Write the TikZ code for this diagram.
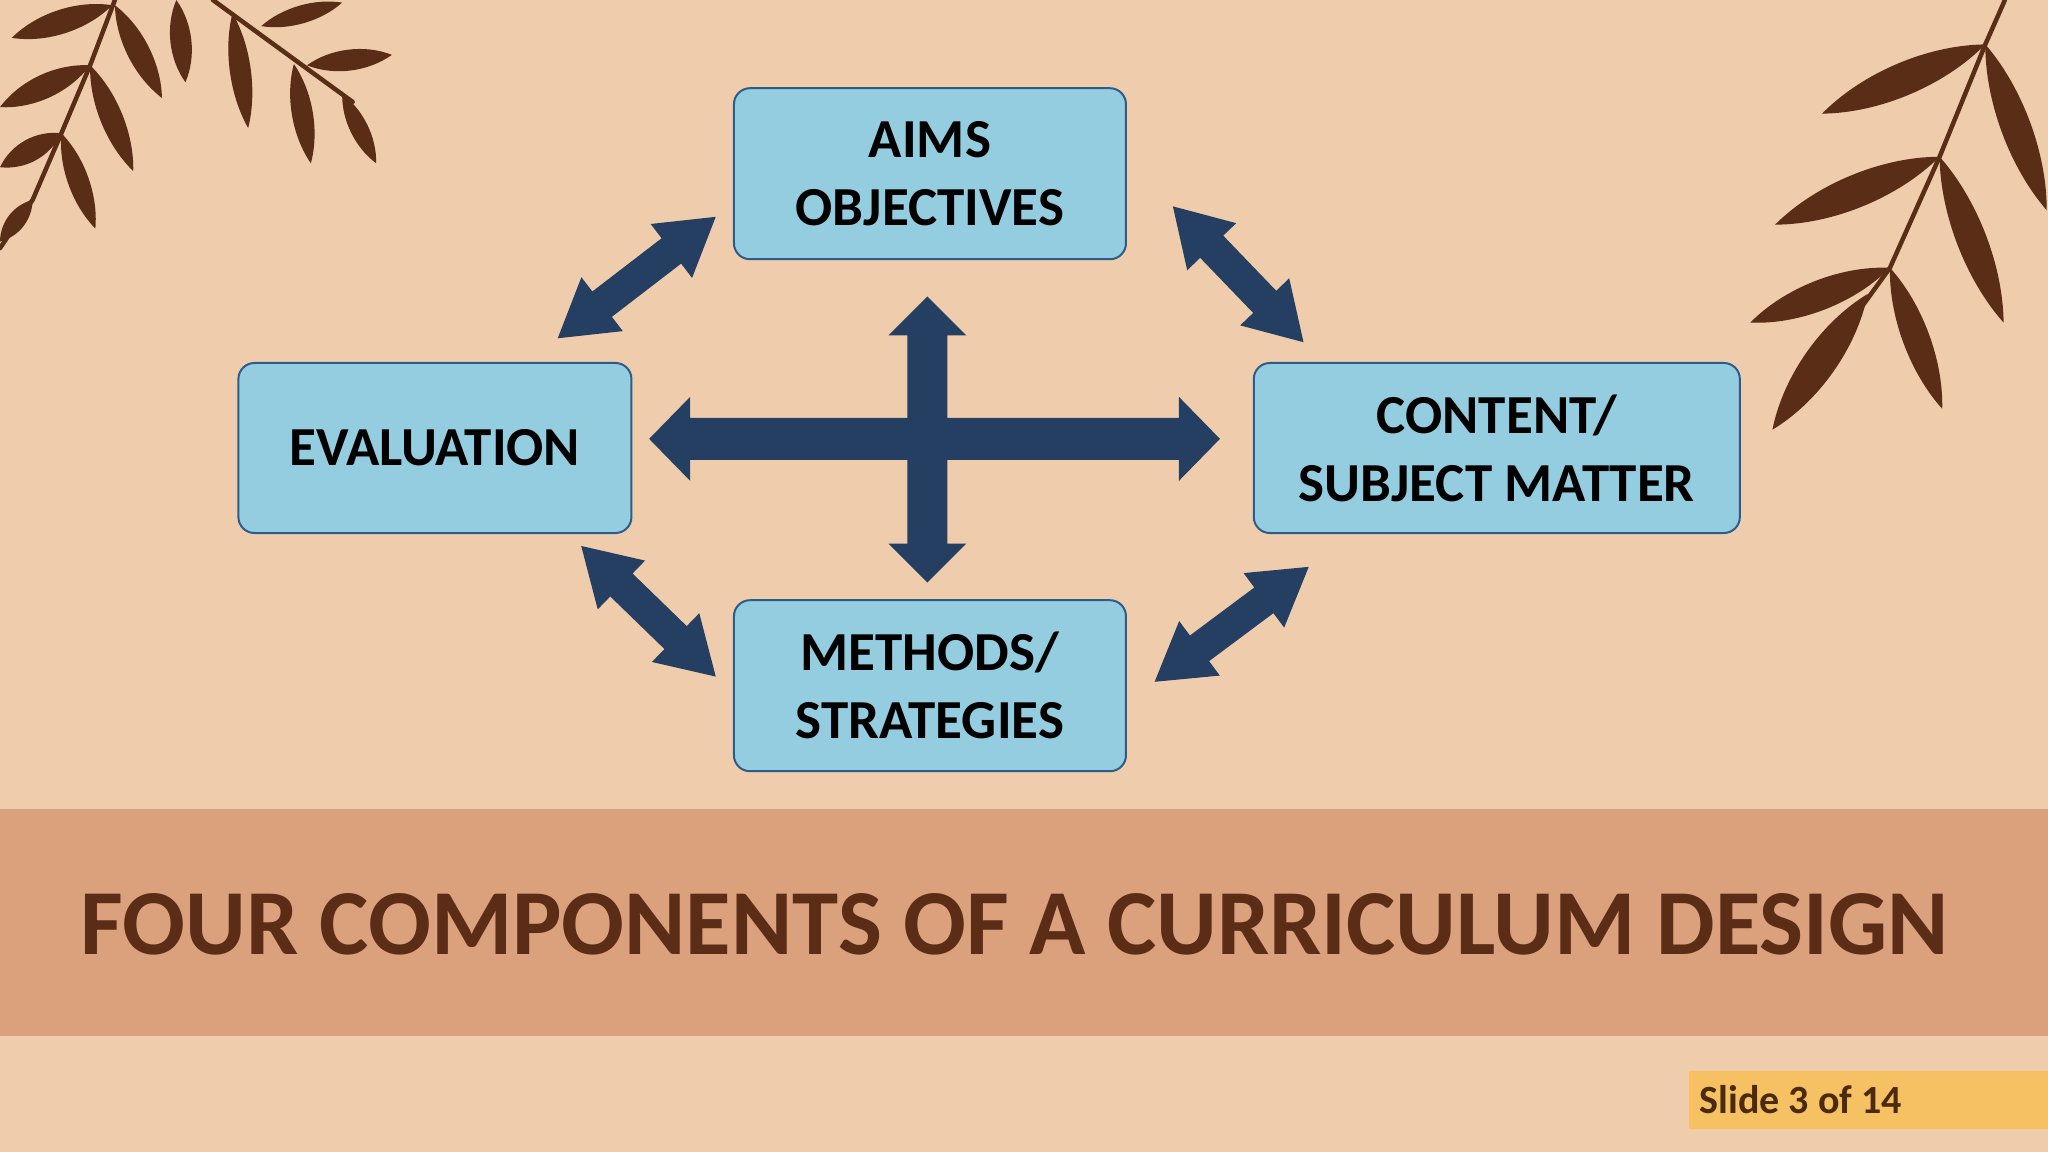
\documentclass[tikz,border=0pt]{standalone}
\usepackage{fontspec}
\setmainfont{Carlito}
\usetikzlibrary{calc}
\definecolor{bgc}{HTML}{EFCDAC}
\definecolor{bandc}{HTML}{DBA17C}
\definecolor{titlec}{HTML}{5B2C16}
\definecolor{boxc}{HTML}{93CDDF}
\definecolor{boxb}{HTML}{2E5C8A}
\definecolor{arrowc}{HTML}{253F63}
\definecolor{slidec}{HTML}{F6C163}
\definecolor{slidet}{HTML}{4A2A10}
\definecolor{leafc}{HTML}{5A2D17}
\newcommand\dblarr[5]{%
\fill[arrowc] (#1) -- ($(#1)!#5!(#2)!#4!90:(#2)$) -- ($(#1)!#5!(#2)!#3!90:(#2)$) -- ($(#2)!#5!(#1)!#3!-90:(#1)$) -- ($(#2)!#5!(#1)!#4!-90:(#1)$) -- (#2) -- ($(#2)!#5!(#1)!#4!90:(#1)$) -- ($(#2)!#5!(#1)!#3!90:(#1)$) -- ($(#1)!#5!(#2)!#3!-90:(#2)$) -- ($(#1)!#5!(#2)!#4!-90:(#2)$) -- cycle;}
\newcommand\leaf[5]{%
\coordinate (la) at (#1,#2); \coordinate (lb) at (#3,#4);
\fill[leafc] (la) .. controls ($(la)!0.3!(lb)!#5!90:(lb)$) and ($(la)!0.7!(lb)!#5!90:(lb)$) .. (lb) .. controls ($(la)!0.7!(lb)!#5!-90:(lb)$) and ($(la)!0.3!(lb)!#5!-90:(lb)$) .. (la) -- cycle;}
\tikzset{box/.style={draw=boxb,line width=2pt,fill=boxc,rounded corners=16pt,align=center,font=\bfseries\fontsize{55}{68}\selectfont,text=black,inner sep=0pt},
stem/.style={draw=leafc,line width=4.5pt,line cap=round}}
\begin{document}
\begin{tikzpicture}[x=1.306pt,y=-1.306pt]
\fill[bgc] (0,0) rectangle (1568,882);
\useasboundingbox (0,0) rectangle (1568,882);
% left leaves
\draw[stem] (88,0) -- (69,50) -- (47,102) -- (25,153) -- (0,190);
\leaf{86}{4}{9}{29}{16pt}
\leaf{88}{4}{124}{75}{15pt}
\leaf{69}{50}{0}{82}{16pt}
\leaf{69}{50}{102}{131}{15pt}
\leaf{47}{102}{0}{128}{15pt}
\leaf{47}{102}{73}{175}{14pt}
\leaf{25}{153}{0}{185}{12pt}
\draw[stem] (163,0) -- (237,54) -- (270,78);
\leaf{135}{0}{142}{63}{14pt}
\leaf{178}{10}{190}{98}{14pt}
\leaf{225}{49}{238}{125}{14pt}
\leaf{262}{72}{288}{125}{12pt}
\leaf{235}{50}{300}{42}{14pt}
\leaf{200}{20}{262}{2}{12pt}
% right leaves
\draw[stem] (1535,0) -- (1520,34) -- (1485,120) -- (1447,205) -- (1400,270);
\leaf{1520}{34}{1395}{87}{22pt}
\leaf{1520}{34}{1567}{161}{20pt}
\leaf{1485}{120}{1359}{172}{22pt}
\leaf{1485}{120}{1534}{247}{20pt}
\leaf{1447}{205}{1340}{247}{20pt}
\leaf{1447}{205}{1487}{313}{18pt}
\leaf{1430}{225}{1357}{329}{22pt}
% band
\fill[bandc] (0,619) rectangle (1568,793);
\node[font=\bfseries\fontsize{93}{100}\selectfont,text=titlec] (title) at (777,708) {FOUR COMPONENTS OF A CURRICULUM DESIGN};
\fill[slidec] (1293,820) rectangle (1568,864);
\node[anchor=west,font=\bfseries\fontsize{40}{44}\selectfont,text=slidet,inner sep=0pt] (slide) at (1301,842) {Slide 3 of 14};
% boxes
\node[box,minimum width=392pt,minimum height=171pt] (aims) at (712,133) {AIMS\\OBJECTIVES};
\node[box,minimum width=393pt,minimum height=170pt] (eval) at (333,343) {EVALUATION};
\node[box,minimum width=486pt,minimum height=170pt] (cont) at (1146,343) {CONTENT/\\SUBJECT MATTER};
\node[box,minimum width=392pt,minimum height=171pt] (meth) at (712,525) {METHODS/\\STRATEGIES};
% arrows
\coordinate (h1) at (497,336); \coordinate (h2) at (934,336);
\coordinate (v1) at (710,227); \coordinate (v2) at (710,446);
\dblarr{h1}{h2}{21pt}{42pt}{41pt}
\dblarr{v1}{v2}{20pt}{39pt}{39pt}
\coordinate (d1a) at (427,259); \coordinate (d1b) at (548,166);
\coordinate (d2a) at (898,158); \coordinate (d2b) at (998,262);
\coordinate (d3a) at (445,418); \coordinate (d3b) at (548,518);
\coordinate (d4a) at (884,522); \coordinate (d4b) at (1002,434);
\dblarr{d1a}{d1b}{16pt}{34pt}{56pt}
\dblarr{d2a}{d2b}{16pt}{34pt}{56pt}
\dblarr{d3a}{d3b}{16pt}{34pt}{56pt}
\dblarr{d4a}{d4b}{16pt}{34pt}{56pt}
\end{tikzpicture}
\end{document}
